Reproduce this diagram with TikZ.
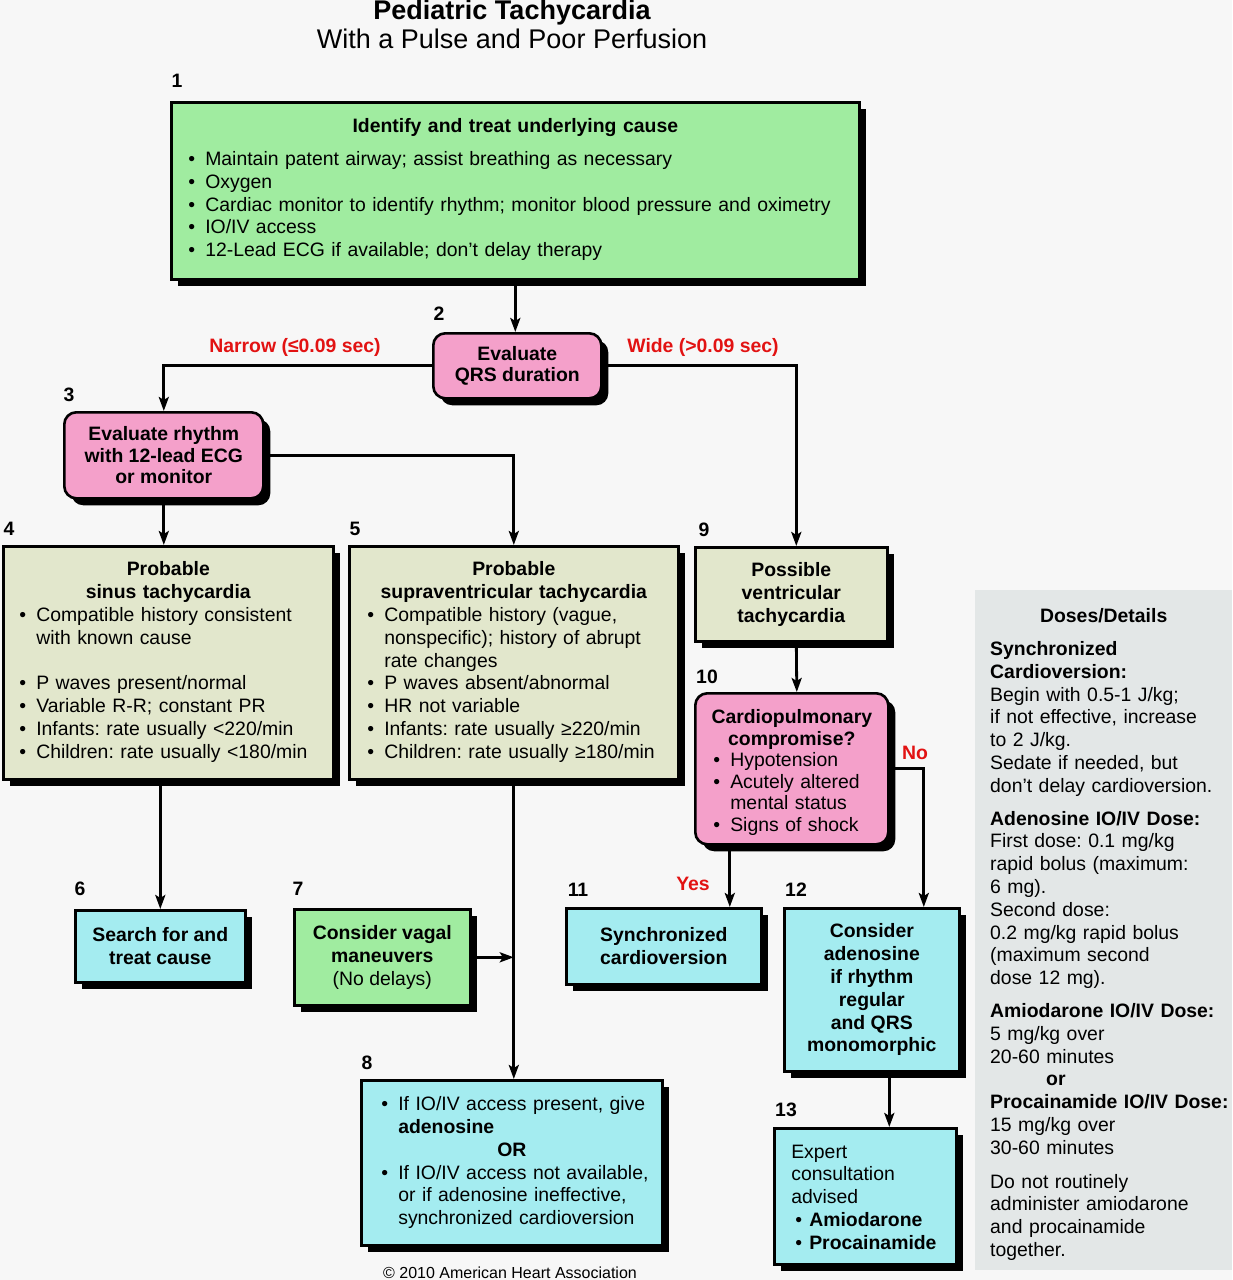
\documentclass[tikz,border=0pt]{standalone}
\usepackage{fontspec}
\setmainfont{Liberation Sans}
\usetikzlibrary{shadows,arrows.meta,calc}
\definecolor{cgreen}{RGB}{160,236,160}
\definecolor{cpink}{RGB}{244,160,202}
\definecolor{cbeige}{RGB}{226,231,204}
\definecolor{ccyan}{RGB}{164,236,240}
\definecolor{cgray}{RGB}{227,231,231}
\definecolor{cbg}{RGB}{247,247,247}
\definecolor{cred}{RGB}{226,18,18}
\newlength\bulw \setlength\bulw{17pt}
\newcommand\bBul[1]{\par\noindent\makebox[\bulw][l]{\textbullet}\mbox{#1}\par}
\newcommand\bCont[1]{\par\noindent\hspace*{\bulw}\mbox{#1}\par}
\newcommand\bHead[1]{\par\noindent\makebox[\linewidth]{#1}\par}
\newcommand\bLine[1]{\par\noindent\mbox{#1}\par}
\newcommand\bEnd[1]{\par\vspace{#1}\noindent\mbox{}\par}
\newcommand\bodyfont{\frenchspacing\fontsize{19.4}{22.8}\selectfont}
\newcommand\pinkfont{\frenchspacing\fontsize{19.4}{21.6}\selectfont}
\tikzset{
  base/.style={draw=black, line width=2.6pt, inner sep=0pt, anchor=north west, font=\bodyfont,
    drop shadow={shadow xshift=7pt, shadow yshift=-7pt, fill=black, opacity=1}},
  greenbox/.style={base, fill=cgreen},
  pinkbox/.style={base, fill=cpink, rounded corners=12pt, font=\pinkfont},
  beigebox/.style={base, fill=cbeige},
  cyanbox/.style={base, fill=ccyan},
  arr/.style={line width=2.8pt, -{Stealth[length=14pt,width=10pt,inset=3pt]}},
  num/.style={font=\bfseries\fontsize{19.4}{20}\selectfont},
  lab/.style={font=\bfseries\fontsize{19.4}{20}\selectfont, text=cred},
}
\begin{document}
\begin{tikzpicture}[x=1pt,y=-1pt]
\useasboundingbox (0,0) rectangle (1232,1280);
\fill[cbg] (0,0) rectangle (1232,1280);

% title
\node[font=\bfseries\fontsize{27}{28}\selectfont] (t1) at (512,13) {Pediatric Tachycardia};
\node[font=\fontsize{27}{28}\selectfont] (t2) at (512,39) {With a Pulse and Poor Perfusion};

% numbers
\node[num] (n1) at (177,81) {1};
\node[num] (n2) at (439,314) {2};
\node[num] (n3) at (69,395) {3};
\node[num] (n4) at (9,529) {4};
\node[num] (n5) at (355,529) {5};
\node[num] (n9) at (704,530) {9};
\node[num] (n10) at (707,677) {10};
\node[num] (n6) at (80,889) {6};
\node[num] (n7) at (298,889) {7};
\node[num] (n11) at (578,890) {11};
\node[num] (n12) at (796,890) {12};
\node[num] (n8) at (367,1063) {8};
\node[num] (n13) at (786,1110) {13};

% boxes
\node[greenbox, minimum width=688pt, minimum height=177pt, text width=654pt] (b1) at (170,101) {%
\bHead{\bfseries Identify and treat underlying cause}\vspace{10pt}%
\bBul{Maintain patent airway; assist breathing as necessary}%
\bBul{Oxygen}%
\bBul{Cardiac monitor to identify rhythm; monitor blood pressure and oximetry}%
\bBul{IO/IV access}%
\bBul{12-Lead ECG if available; don’t delay therapy}%
\bEnd{-7.7pt}};

\node[pinkbox, minimum width=168pt, minimum height=65pt, align=center, font=\pinkfont\bfseries] (b2) at (432,332) {Evaluate\\QRS duration};

\node[pinkbox, minimum width=199pt, minimum height=86pt, align=center, font=\pinkfont\bfseries] (b3) at (63,411) {Evaluate rhythm\\with 12-lead ECG\\or monitor};

\node[beigebox, minimum width=330pt, minimum height=233pt, text width=298pt] (b4) at (2,545) {%
\bHead{\bfseries Probable}%
\bHead{\bfseries sinus tachycardia}%
\bBul{Compatible history consistent}%
\bCont{with known cause}\vspace{22.8pt}%
\bBul{P waves present/normal}%
\bBul{Variable R-R; constant PR}%
\bBul{Infants: rate usually <220/min}%
\bBul{Children: rate usually <180/min}%
\bEnd{-8.7pt}};

\node[beigebox, minimum width=329pt, minimum height=233pt, text width=293pt] (b5) at (348,545) {%
\bHead{\bfseries Probable}%
\bHead{\bfseries supraventricular tachycardia}%
\bBul{Compatible history (vague,}%
\bCont{nonspecific); history of abrupt}%
\bCont{rate changes}%
\bBul{P waves absent/abnormal}%
\bBul{HR not variable}%
\bBul{Infants: rate usually ≥220/min}%
\bBul{Children: rate usually ≥180/min}%
\bEnd{-8.7pt}};

\node[beigebox, minimum width=192pt, minimum height=94pt, align=center, font=\bodyfont\bfseries] (b9) at (694,546) {Possible\\ventricular\\tachycardia};

\node[pinkbox, minimum width=193pt, minimum height=151pt, text width=157pt] (b10) at (694,692) {%
\bHead{\bfseries Cardiopulmonary}%
\bHead{\bfseries compromise?}%
\bBul{Hypotension}%
\bBul{Acutely altered}%
\bCont{mental status}%
\bBul{Signs of shock}};

\node[cyanbox, minimum width=170pt, minimum height=72pt, align=center, font=\bodyfont\bfseries] (b6) at (74,909) {Search for and\\treat cause};

\node[greenbox, minimum width=176pt, minimum height=96pt, align=center] (b7) at (293,908) {\textbf{Consider vagal}\\\textbf{maneuvers}\\(No delays)};

\node[cyanbox, minimum width=301pt, minimum height=165pt, text width=261pt] (b8) at (360,1079) {%
\bBul{If IO/IV access present, give}%
\bCont{\bfseries adenosine}%
\bHead{\bfseries OR}%
\bBul{If IO/IV access not available,}%
\bCont{or if adenosine ineffective,}%
\bCont{synchronized cardioversion}%
\bEnd{-9.7pt}};

\node[cyanbox, minimum width=195pt, minimum height=76pt, align=center, font=\bodyfont\bfseries] (b11) at (565,907) {Synchronized\\cardioversion};

\node[cyanbox, minimum width=175pt, minimum height=163pt, align=center, font=\bodyfont\bfseries] (b12) at (783,907) {Consider\\adenosine\\if rhythm\\regular\\and QRS\\monomorphic};

\node[cyanbox, minimum width=182pt, minimum height=136pt, text width=148pt] (b13) at (773,1127) {%
\bLine{Expert}%
\bLine{consultation}%
\bLine{advised}%
\bLine{\hspace*{4pt}\makebox[14pt][l]{\textbullet}\textbf{Amiodarone}}%
\bLine{\hspace*{4pt}\makebox[14pt][l]{\textbullet}\textbf{Procainamide}}%
\bEnd{-14.8pt}};

% doses panel
\node[fill=cgray, anchor=north west, inner sep=0pt, minimum width=257pt, minimum height=680pt, text width=227pt, font=\bodyfont] (dose) at (975,590) {%
\bHead{\bfseries Doses/Details}\vspace{10pt}%
\bLine{\bfseries Synchronized}%
\bLine{\bfseries Cardioversion:}%
\bLine{Begin with 0.5-1 J/kg;}%
\bLine{if not effective, increase}%
\bLine{to 2 J/kg.}%
\bLine{Sedate if needed, but}%
\bLine{don’t delay cardioversion.}\vspace{10pt}%
\bLine{\bfseries Adenosine IO/IV Dose:}%
\bLine{First dose: 0.1 mg/kg}%
\bLine{rapid bolus (maximum:}%
\bLine{6 mg).}%
\bLine{Second dose:}%
\bLine{0.2 mg/kg rapid bolus}%
\bLine{(maximum second}%
\bLine{dose 12 mg).}\vspace{10pt}%
\bLine{\bfseries Amiodarone IO/IV Dose:}%
\bLine{5 mg/kg over}%
\bLine{20-60 minutes}%
\bLine{\hspace*{56pt}\bfseries or}%
\bLine{\bfseries Procainamide IO/IV Dose:}%
\bLine{15 mg/kg over}%
\bLine{30-60 minutes}\vspace{11pt}%
\bLine{Do not routinely}%
\bLine{administer amiodarone}%
\bLine{and procainamide}%
\bLine{together.}};

% copyright
\node[font=\fontsize{16}{17}\selectfont] (copy) at (510,1273) {© 2010 American Heart Association};

% connectors
\draw[arr] (b1.south) -- (b1.south |- b2.north);
\draw[arr] (b2.west) -| (b3.north);
\draw[arr] (b2.east) -| ([xshift=5pt]b9.north);
\draw[arr] (b3.south) -- (b3.south |- b4.north);
\draw[arr] (b3.east) -| (b5.north);
\draw[arr] ([xshift=5pt]b9.south) -- ([xshift=5pt]b10.north);
\draw[arr] ([xshift=-62pt]b10.south) -- ([xshift=-62pt]b10.south |- b11.north);
\draw[arr] (b10.east) -| ([xshift=52pt]b12.north);
\draw[arr] (b6.north |- b4.south) -- (b6.north);
\draw[arr] (b5.south) -- (b5.south |- b8.north);
\draw[arr] (b7.east) -- (b7.east -| b5.south);
\draw[arr] ([xshift=17.5pt]b12.south) -- ([xshift=17.5pt]b12.south |- b13.north);

% labels
\node[lab] (lnarrow) at (295,347) {Narrow (≤0.09 sec)};
\node[lab] (lwide) at (703,347) {Wide (>0.09 sec)};
\node[lab] (lyes) at (693,884) {Yes};
\node[lab] (lno) at (915,753) {No};
\end{tikzpicture}
\end{document}
